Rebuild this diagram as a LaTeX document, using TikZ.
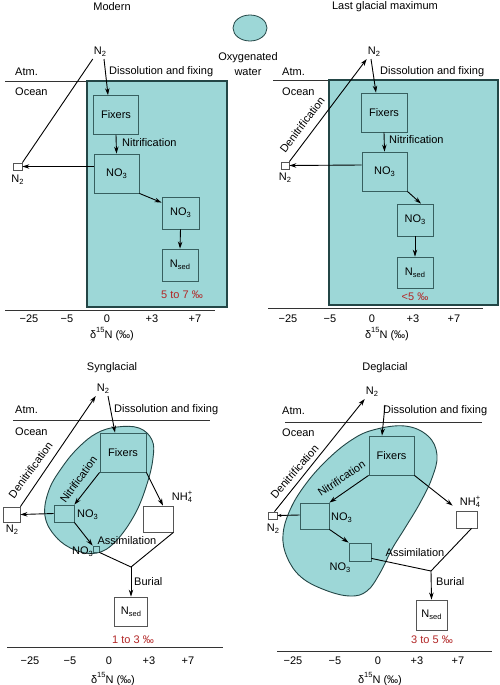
\documentclass[tikz,border=0pt]{standalone}
\usepackage{fontspec}
\setmainfont{Liberation Sans}
\usetikzlibrary{arrows.meta,calc}
\definecolor{ox}{RGB}{157,215,215}
\definecolor{oxline}{RGB}{35,70,70}
\definecolor{boxline}{RGB}{55,95,95}
\definecolor{wline}{RGB}{85,85,85}
\definecolor{redtxt}{RGB}{178,38,38}
\newcommand\mysub[1]{\raisebox{-0.35ex}{\fontsize{7.5}{8}\selectfont #1}}
\newcommand\mysup[1]{\raisebox{0.9ex}{\fontsize{7.5}{8}\selectfont #1}}
\newcommand\nhfour{NH\rlap{\mysub{4}}\mysup{+}}
\begin{document}
\begin{tikzpicture}[x=1pt,y=-1pt,
  lbl/.style={font=\fontsize{11}{13}\selectfont, inner sep=0pt},
  redlbl/.style={lbl, text=redtxt},
  ibox/.style={draw=boxline, fill=ox, line width=0.8pt, inner sep=0pt, font=\fontsize{11}{13}\selectfont},
  wbox/.style={draw=wline, fill=white, line width=0.8pt, inner sep=0pt, font=\fontsize{11}{13}\selectfont},
  oxarea/.style={draw=oxline, fill=ox, line width=1.1pt},
  arr/.style={draw=black, line width=0.9pt, -{Stealth[length=7pt,width=4.5pt]}},
  plain/.style={draw=black, line width=0.9pt},
  axisline/.style={draw=black!80, line width=0.8pt},
  surf/.style={draw=black!80, line width=0.7pt}
]
\fill[white] (0,0) rectangle (500,685);
\useasboundingbox (0,0) rectangle (500,685);

% ---------------- Legend ----------------
\draw[oxarea, line width=0.8pt] (250,28) ellipse [x radius=17, y radius=13];
\node[lbl] (leg1) at (248,58) {Oxygenated};
\node[lbl] (leg2) at (248,72) {water};

% ---------------- Panel 1: Modern ----------------
\node[lbl] (t1) at (112,7) {Modern};
\draw[surf] (5,81) -- (200,81);
\draw[oxarea] (87,81) rectangle (227,307);
\node[lbl] (n2a) at (100,52) {N\mysub{2}};
\node[lbl,anchor=west] (atm1) at (15,72) {Atm.};
\node[lbl,anchor=west] (oc1) at (15,92) {Ocean};
\node[lbl,anchor=west] (dis1) at (109,72) {Dissolution and fixing};
\node[ibox, minimum width=45, minimum height=39] (fix1) at (116,115) {Fixers};
\node[ibox, minimum width=45, minimum height=39] (noa1) at (116.5,173.5) {NO\mysub{3}};
\node[ibox, minimum width=37, minimum height=32] (nob1) at (180.5,213) {NO\mysub{3}};
\node[ibox, minimum width=36, minimum height=32] (ns1) at (180,265) {N\mysub{sed}};
\node[wbox, minimum width=9, minimum height=7] (sb1) at (17.5,166.5) {};
\node[lbl] (sbl1) at (17.5,180) {N\mysub{2}};
\node[lbl,anchor=west] (nit1) at (122,143) {Nitrification};
\node[redlbl] (r1) at (182,295) {5 to 7 ‰};
\draw[arr] ($(n2a.south)+(4,2)$) -- ($(fix1.north)+(-8,0)$);
\draw[arr] (fix1.south) -- (noa1.north);
\draw[arr] ($(noa1.west)+(0,-7)$) -- (sb1.east);
\draw[plain] ($(n2a.south west)+(-1,2)$) -- (sb1.north east);
\draw[arr] (noa1.south east) -- ($(nob1.north west)+(0,6)$);
\draw[arr] (nob1.south) -- (ns1.north);
\draw[axisline] (5,310) -- (215,310);
\node[lbl] (x11) at (29,319) {−25};
\node[lbl] (x12) at (67,319) {−5};
\node[lbl] (x13) at (107,319) {0};
\node[lbl] (x14) at (152,319) {+3};
\node[lbl] (x15) at (195,319) {+7};
\node[lbl] (ax1) at (112,334) {δ\mysup{15}N (‰)};

% ---------------- Panel 2: Last glacial maximum ----------------
\node[lbl] (t2) at (385,7) {Last glacial maximum};
\draw[surf] (273,80) -- (498,80);
\draw[oxarea] (329,80) rectangle (498,305);
\node[lbl] (n2b) at (374,52) {N\mysub{2}};
\node[lbl,anchor=west] (atm2) at (282,72) {Atm.};
\node[lbl,anchor=west] (oc2) at (282,92) {Ocean};
\node[lbl,anchor=west] (dis2) at (380,72) {Dissolution and fixing};
\node[ibox, minimum width=46, minimum height=39] (fix2) at (384,112.5) {Fixers};
\node[ibox, minimum width=45, minimum height=39] (noa2) at (384.5,171.5) {NO\mysub{3}};
\node[ibox, minimum width=36, minimum height=32] (nob2) at (415,220) {NO\mysub{3}};
\node[ibox, minimum width=36, minimum height=31] (ns2) at (415,272.5) {N\mysub{sed}};
\node[wbox, minimum width=8, minimum height=7] (sb2) at (285,165.5) {};
\node[lbl] (sbl2) at (285,178) {N\mysub{2}};
\node[lbl,anchor=west] (nit2) at (389,140) {Nitrification};
\node[lbl, rotate=53] (den2) at (302.2,124.6) {Denitrification};
\node[redlbl] (r2) at (415,297) {<5 ‰};
\draw[arr] ($(n2b.south)+(-3,2)$) -- ($(fix2.north)+(-8,0)$);
\draw[arr] (fix2.south) -- (noa2.north);
\draw[arr] ($(noa2.west)+(0,-6.5)$) -- (sb2.east);
\draw[arr] (sb2.north east) -- ($(n2b.south west)+(-1,2)$);
\draw[arr] (noa2.south east) -- ($(nob2.north)+(6,0)$);
\draw[arr] (nob2.south) -- (ns2.north);
\draw[axisline] (268,308) -- (483,308);
\node[lbl] (x21) at (288,319) {−25};
\node[lbl] (x22) at (330,319) {−5};
\node[lbl] (x23) at (372,319) {0};
\node[lbl] (x24) at (413,319) {+3};
\node[lbl] (x25) at (454,319) {+7};
\node[lbl] (ax2) at (387,334) {δ\mysup{15}N (‰)};

% ---------------- Panel 3: Synglacial ----------------
\node[lbl] (t3) at (112,368) {Synglacial};
\draw[surf] (13,420) -- (210,420);
\draw[oxarea, line width=0.9pt] plot[smooth cycle, tension=0.65] coordinates {
  (97,433) (117,427) (139,428) (152,440) (153,458) (147,484) (135,514)
  (116,541) (97,553) (75,550) (56,537) (45,516) (49,490) (63,466) (79,447)};
\node[lbl] (n2c) at (103,389) {N\mysub{2}};
\node[lbl,anchor=west] (atm3) at (15,410) {Atm.};
\node[lbl,anchor=west] (oc3) at (15,432) {Ocean};
\node[lbl,anchor=west] (dis3) at (114,410) {Dissolution and fixing};
\node[ibox, minimum width=46, minimum height=39] (fix3) at (123,452.5) {Fixers};
\node[ibox, minimum width=20, minimum height=17] (noa3) at (64,513.5) {};
\node[lbl,anchor=west] (noal3) at (77,515) {NO\mysub{3}};
\node[ibox, minimum width=6, minimum height=6] (nob3) at (96,549) {};
\node[lbl,anchor=east] (nobl3) at (93,552) {NO\mysub{3}};
\node[wbox, minimum width=17, minimum height=15] (sb3) at (11.5,514.5) {};
\node[lbl] (sbl3) at (12,530) {N\mysub{2}};
\node[wbox, minimum width=30, minimum height=26] (nh3) at (158,519) {};
\node[lbl] (nhl3) at (182,497) {\nhfour};
\node[wbox, minimum width=33, minimum height=29] (ns3) at (131,611.5) {N\mysub{sed}};
\coordinate (j3) at (131,567);
\node[lbl, rotate=54] (nit3) at (78.5,479.5) {Nitrification};
\node[lbl, rotate=54] (den3) at (30.5,470) {Denitrification};
\draw[arr] ($(n2c.south)+(5,2)$) -- ($(fix3.north)+(-8,0)$);
\draw[arr] (sb3.north east) -- ($(n2c.south west)+(-1,2)$);
\draw[arr] (fix3.south west) -- (noa3.north east);
\draw[arr] (noa3.west) -- (sb3.east);
\draw[arr] (noa3.south east) -- (nob3.north west);
\draw[arr] (fix3.south east) -- ($(nh3.north)+(5,0)$);
\draw[plain] (nob3.south east) -- (j3);
\draw[plain] (nh3.south east) -- (j3);
\draw[arr] (j3) -- (ns3.north);
\node[lbl] (as3) at (127,541) {Assimilation};
\node[lbl,anchor=west] (bu3) at (134,582) {Burial};
\node[redlbl] (r3) at (133,640) {1 to 3 ‰};
\draw[axisline] (7,647) -- (223,647);
\node[lbl] (x31) at (30,661) {−25};
\node[lbl] (x32) at (70,661) {−5};
\node[lbl] (x33) at (109,661) {0};
\node[lbl] (x34) at (149,661) {+3};
\node[lbl] (x35) at (188,661) {+7};
\node[lbl] (ax3) at (113,679) {δ\mysup{15}N (‰)};

% ---------------- Panel 4: Deglacial ----------------
\node[lbl] (t4) at (385,368) {Deglacial};
\draw[surf] (285,422) -- (482,422);
\draw[oxarea, line width=0.9pt] plot[smooth cycle, tension=0.65] coordinates {
  (373,430) (405,426) (428,436) (437,455) (432,478) (420,503) (405,528)
  (392,549) (380,573) (367,591) (350,596) (325,590) (301,577) (287,557)
  (283,535) (290,510) (305,485) (326,461) (350,441)};
\node[lbl] (n2d) at (372,392) {N\mysub{2}};
\node[lbl,anchor=west] (atm4) at (282,411) {Atm.};
\node[lbl,anchor=west] (oc4) at (282,433) {Ocean};
\node[lbl,anchor=west] (dis4) at (383,411) {Dissolution and fixing};
\node[ibox, minimum width=45, minimum height=39] (fix4) at (391.5,455.5) {Fixers};
\node[ibox, minimum width=29, minimum height=26] (noa4) at (314.5,516) {};
\node[lbl,anchor=west] (noal4) at (331,518) {NO\mysub{3}};
\node[ibox, minimum width=22, minimum height=18] (nob4) at (360,552) {};
\node[lbl] (nobl4) at (340,568) {NO\mysub{3}};
\node[wbox, minimum width=9, minimum height=7] (sb4) at (272.5,515.5) {};
\node[lbl] (sbl4) at (273,529) {N\mysub{2}};
\node[wbox, minimum width=21, minimum height=17] (nh4) at (466.5,519.5) {};
\node[lbl] (nhl4) at (470,502) {\nhfour};
\node[wbox, minimum width=31, minimum height=30] (ns4) at (431.5,615) {N\mysub{sed}};
\coordinate (j4) at (431,571);
\node[lbl, rotate=34] (nit4) at (341.5,478.5) {Nitrification};
\node[lbl, rotate=49] (den4) at (294.5,471.5) {Denitrification};
\draw[arr] ($(n2d.south)+(13,8)$) -- ($(fix4.north)+(-9.5,0)$);
\draw[arr] ($(sb4.north)+(2,0)$) -- ($(n2d.south west)+(-1,2)$);
\draw[arr] (fix4.south west) -- (noa4.north east);
\draw[arr, -{Stealth[length=4pt,width=3pt]}] ($(noa4.west)+(0,-1)$) -- (sb4.east);
\draw[arr] (noa4.south east) -- (nob4.north west);
\draw[arr] (fix4.south east) -- ($(nh4.north west)+(-3,-5)$);
\draw[plain] ($(nob4.south east)+(0,-3)$) -- (j4);
\draw[plain] ($(nh4.south)+(5,0)$) -- (j4);
\draw[arr] (j4) -- (ns4.north);
\node[lbl] (as4) at (415,553) {Assimilation};
\node[lbl,anchor=west] (bu4) at (436,582) {Burial};
\node[redlbl] (r4) at (432,640) {3 to 5 ‰};
\draw[axisline] (277,651) -- (492,651);
\node[lbl] (x41) at (293,661) {−25};
\node[lbl] (x42) at (335,661) {−5};
\node[lbl] (x43) at (378,661) {0};
\node[lbl] (x44) at (417,661) {+3};
\node[lbl] (x45) at (458,661) {+7};
\node[lbl] (ax4) at (380,679) {δ\mysup{15}N (‰)};
\end{tikzpicture}
\end{document}
